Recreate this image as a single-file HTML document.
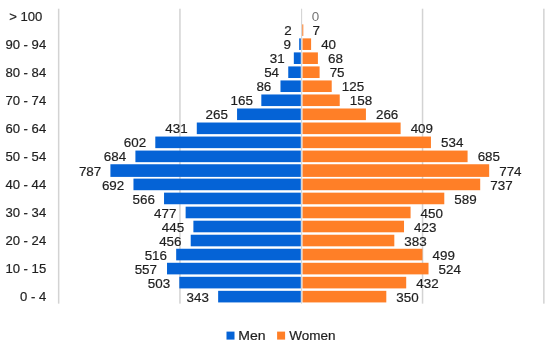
<!DOCTYPE html>
<html lang="en"><head><meta charset="utf-8"><title>Population pyramid</title>
<style>html,body{margin:0;padding:0;background:#fff}body{width:550px;height:349px;overflow:hidden}svg{display:block}text{font-family:"Liberation Sans",sans-serif;font-size:13.4px;fill:#1f1f1f;stroke:#1f1f1f;stroke-width:0.2px}</style></head><body>
<svg width="550" height="349" viewBox="0 0 550 349">
<rect width="550" height="349" fill="#fff"/>
<rect x="57.90" y="8.70" width="1.5" height="294.95" fill="#d3d3d3"/>
<rect x="179.20" y="8.70" width="1.5" height="294.95" fill="#d3d3d3"/>
<rect x="421.80" y="8.70" width="1.5" height="294.95" fill="#d3d3d3"/>
<rect x="543.10" y="8.70" width="1.5" height="294.95" fill="#d3d3d3"/>
<rect x="302.25" y="24.34" width="1.05" height="11.60" fill="#ff7f27"/>
<rect x="299.17" y="38.37" width="1.63" height="11.60" fill="#0563d6"/>
<rect x="302.50" y="38.37" width="8.60" height="11.60" fill="#ff7f27"/>
<rect x="293.83" y="52.39" width="6.97" height="11.60" fill="#0563d6"/>
<rect x="302.50" y="52.39" width="15.40" height="11.60" fill="#ff7f27"/>
<rect x="288.25" y="66.42" width="12.55" height="11.60" fill="#0563d6"/>
<rect x="302.50" y="66.42" width="17.09" height="11.60" fill="#ff7f27"/>
<rect x="280.49" y="80.44" width="20.31" height="11.60" fill="#0563d6"/>
<rect x="302.50" y="80.44" width="29.22" height="11.60" fill="#ff7f27"/>
<rect x="261.32" y="94.47" width="39.48" height="11.60" fill="#0563d6"/>
<rect x="302.50" y="94.47" width="37.23" height="11.60" fill="#ff7f27"/>
<rect x="237.06" y="108.49" width="63.74" height="11.60" fill="#0563d6"/>
<rect x="302.50" y="108.49" width="63.43" height="11.60" fill="#ff7f27"/>
<rect x="196.79" y="122.52" width="104.01" height="11.60" fill="#0563d6"/>
<rect x="302.50" y="122.52" width="98.12" height="11.60" fill="#ff7f27"/>
<rect x="155.30" y="136.55" width="145.50" height="11.60" fill="#0563d6"/>
<rect x="302.50" y="136.55" width="128.45" height="11.60" fill="#ff7f27"/>
<rect x="135.41" y="150.57" width="165.39" height="11.60" fill="#0563d6"/>
<rect x="302.50" y="150.57" width="165.08" height="11.60" fill="#ff7f27"/>
<rect x="110.42" y="164.25" width="190.38" height="12.65" fill="#0563d6"/>
<rect x="302.50" y="164.25" width="186.67" height="12.65" fill="#ff7f27"/>
<rect x="133.47" y="178.62" width="167.33" height="11.60" fill="#0563d6"/>
<rect x="302.50" y="178.62" width="177.70" height="11.60" fill="#ff7f27"/>
<rect x="164.04" y="192.65" width="136.76" height="11.60" fill="#0563d6"/>
<rect x="302.50" y="192.65" width="141.79" height="11.60" fill="#ff7f27"/>
<rect x="185.63" y="206.68" width="115.17" height="11.60" fill="#0563d6"/>
<rect x="302.50" y="206.68" width="108.07" height="11.60" fill="#ff7f27"/>
<rect x="193.39" y="220.70" width="107.41" height="11.60" fill="#0563d6"/>
<rect x="302.50" y="220.70" width="101.52" height="11.60" fill="#ff7f27"/>
<rect x="190.72" y="234.73" width="110.08" height="11.60" fill="#0563d6"/>
<rect x="302.50" y="234.73" width="91.82" height="11.60" fill="#ff7f27"/>
<rect x="176.17" y="248.75" width="124.63" height="11.60" fill="#0563d6"/>
<rect x="302.50" y="248.75" width="119.96" height="11.60" fill="#ff7f27"/>
<rect x="167.02" y="262.78" width="133.78" height="11.60" fill="#0563d6"/>
<rect x="302.50" y="262.78" width="126.02" height="11.60" fill="#ff7f27"/>
<rect x="179.32" y="276.81" width="121.48" height="11.60" fill="#0563d6"/>
<rect x="302.50" y="276.81" width="103.70" height="11.60" fill="#ff7f27"/>
<rect x="218.14" y="290.83" width="82.66" height="11.60" fill="#0563d6"/>
<rect x="302.50" y="290.83" width="83.81" height="11.60" fill="#ff7f27"/>
<rect x="301.30" y="8.70" width="0.8" height="294.95" fill="#c4c4c4"/>
<text x="42.30" y="20.91" text-anchor="end" style="font-size:13.1px">> 100</text>
<text x="311.80" y="21.21" style="fill:#757575;stroke:none">0</text>
<text x="291.66" y="35.24" text-anchor="end">2</text>
<text x="312.55" y="35.24">7</text>
<text x="46.20" y="48.96" text-anchor="end" style="font-size:13.1px">90 - 94</text>
<text x="290.97" y="49.27" text-anchor="end">9</text>
<text x="321.15" y="49.27">40</text>
<text x="284.63" y="63.29" text-anchor="end">31</text>
<text x="327.95" y="63.29">68</text>
<text x="46.20" y="77.02" text-anchor="end" style="font-size:13.1px">80 - 84</text>
<text x="279.05" y="77.32" text-anchor="end">54</text>
<text x="329.64" y="77.32">75</text>
<text x="271.29" y="91.34" text-anchor="end">86</text>
<text x="341.77" y="91.34">125</text>
<text x="46.20" y="105.07" text-anchor="end" style="font-size:13.1px">70 - 74</text>
<text x="252.92" y="105.37" text-anchor="end">165</text>
<text x="349.78" y="105.37">158</text>
<text x="227.86" y="119.39" text-anchor="end">265</text>
<text x="375.98" y="119.39">266</text>
<text x="46.20" y="133.12" text-anchor="end" style="font-size:13.1px">60 - 64</text>
<text x="187.59" y="133.42" text-anchor="end">431</text>
<text x="410.67" y="133.42">409</text>
<text x="146.10" y="147.45" text-anchor="end">602</text>
<text x="441.00" y="147.45">534</text>
<text x="46.20" y="161.17" text-anchor="end" style="font-size:13.1px">50 - 54</text>
<text x="126.21" y="161.47" text-anchor="end">684</text>
<text x="477.63" y="161.47">685</text>
<text x="101.22" y="175.50" text-anchor="end">787</text>
<text x="499.22" y="175.50">774</text>
<text x="46.20" y="189.22" text-anchor="end" style="font-size:13.1px">40 - 44</text>
<text x="124.27" y="189.52" text-anchor="end">692</text>
<text x="490.25" y="189.52">737</text>
<text x="154.84" y="203.55" text-anchor="end">566</text>
<text x="454.34" y="203.55">589</text>
<text x="46.20" y="217.28" text-anchor="end" style="font-size:13.1px">30 - 34</text>
<text x="176.43" y="217.58" text-anchor="end">477</text>
<text x="420.62" y="217.58">450</text>
<text x="184.19" y="231.60" text-anchor="end">445</text>
<text x="414.07" y="231.60">423</text>
<text x="46.20" y="245.33" text-anchor="end" style="font-size:13.1px">20 - 24</text>
<text x="181.52" y="245.63" text-anchor="end">456</text>
<text x="404.37" y="245.63">383</text>
<text x="166.97" y="259.65" text-anchor="end">516</text>
<text x="432.51" y="259.65">499</text>
<text x="46.20" y="273.38" text-anchor="end" style="font-size:13.1px">10 - 15</text>
<text x="157.02" y="273.68" text-anchor="end">557</text>
<text x="438.57" y="273.68">524</text>
<text x="170.12" y="287.71" text-anchor="end">503</text>
<text x="416.25" y="287.71">432</text>
<text x="46.20" y="301.43" text-anchor="end" style="font-size:13.1px">0 - 4</text>
<text x="208.94" y="301.73" text-anchor="end">343</text>
<text x="396.36" y="301.73">350</text>
<rect x="226.5" y="331.6" width="8" height="8" fill="#0563d6"/>
<text x="238.3" y="340" textLength="27.3" lengthAdjust="spacingAndGlyphs" style="font-size:12.6px">Men</text>
<rect x="277.1" y="331.6" width="8" height="8" fill="#ff7f27"/>
<text x="289.2" y="340" textLength="46.2" lengthAdjust="spacingAndGlyphs" style="font-size:12.6px">Women</text>
</svg></body></html>
